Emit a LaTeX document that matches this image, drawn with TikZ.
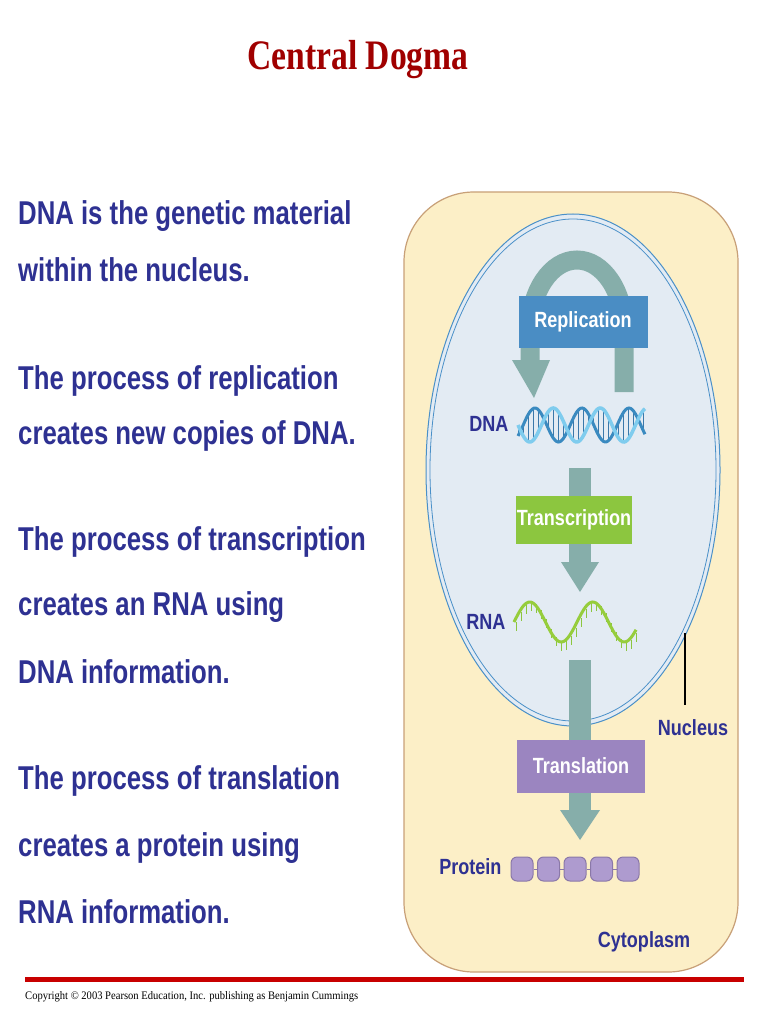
\documentclass[tikz,border=0pt]{standalone}
\usepackage{fontspec}
\usepackage{graphicx}
\setmainfont{Liberation Sans}
\newfontfamily\serifnarrow{Liberation Serif}
\newcommand{\nar}[2]{\scalebox{#1}[1]{#2}}
\begin{document}
\begin{tikzpicture}[x=1pt,y=-1pt,
  body/.style={font=\bfseries\fontsize{33}{36}\selectfont,text=tblue,anchor=west,inner sep=0pt},
  lbl/.style={font=\bfseries\fontsize{22}{24}\selectfont,text=tblue},
  box/.style={draw=none,text=white,font=\bfseries\fontsize{22}{24}\selectfont,inner sep=0pt},
  flow/.style={line width=22pt,draw=arrowc},
  bead/.style={draw=beadd,fill=beadc,rounded corners=6pt,line width=1pt,minimum width=22pt,minimum height=24pt,inner sep=0pt}]
\definecolor{tblue}{HTML}{2E3192}
\definecolor{arrowc}{HTML}{86AEAA}
\definecolor{beadc}{HTML}{AE9BCF}
\definecolor{beadd}{HTML}{8A78A8}
\useasboundingbox (0,0) rectangle (768,1024);
\fill[white] (0,0) rectangle (768,1024);
% title
\node[font=\serifnarrow\bfseries\fontsize{42}{44}\selectfont,text={rgb,255:red,160;green,0;blue,0}] (title) at (358,60) {\nar{0.8}{Central Dogma}};
% left text
\node[body] (t1) at (18,216) {\nar{0.78}{DNA is the genetic material}};
\node[body] (t2) at (18,270) {\nar{0.78}{within the nucleus.}};
\node[body] (t3) at (18,381) {\nar{0.78}{The process of replication}};
\node[body] (t4) at (18,436) {\nar{0.78}{creates new copies of DNA.}};
\node[body] (t5) at (18,542) {\nar{0.78}{The process of transcription}};
\node[body] (t6) at (18,607) {\nar{0.78}{creates an RNA using}};
\node[body] (t7) at (18,672) {\nar{0.78}{DNA information.}};
\node[body] (t8) at (18,781) {\nar{0.78}{The process of translation}};
\node[body] (t9) at (18,848) {\nar{0.78}{creates a protein using}};
\node[body] (t10) at (18,912) {\nar{0.78}{RNA information.}};
% cytoplasm
\draw[draw={rgb,255:red,200;green,160;blue,120},fill={rgb,255:red,252;green,239;blue,199},line width=1.2pt,rounded corners=70pt] (404,192) rectangle (738,972);
% nucleus
\draw[draw={rgb,255:red,74;green,144;blue,200},fill={rgb,255:red,227;green,235;blue,243},line width=1pt] (573,470) ellipse [x radius=147,y radius=256];
\draw[draw={rgb,255:red,74;green,144;blue,200},line width=0.8pt] (573,470) ellipse [x radius=143,y radius=251];
% replication arrow
\draw[line width=19pt,draw=arrowc] (624,392) -- (624,330) arc[start angle=0,end angle=-180,x radius=47,y radius=70] -- (530,362);
\fill[arrowc] (512,360) -- (550,360) -- (534,398) -- cycle;
\node[box,fill={rgb,255:red,74;green,141;blue,196},minimum width=129pt,minimum height=52pt] (rep) at (583,322) {\nar{0.82}{Replication}};
% DNA helix
\node[lbl,anchor=east] (dna) at (512,424) {\nar{0.82}{DNA}};
\foreach \i in {0,...,25}{
  \pgfmathsetmacro\aa{(\i*5/47)*360}
  \pgfmathsetmacro\xx{518+\i*5}
  \draw[draw={rgb,255:red,58;green,120;blue,170},line width=0.6pt] (\xx,{425+17*sin(\aa)}) -- (\xx,{425+17*sin(\aa+140)});
}
\draw[draw={rgb,255:red,58;green,138;blue,192},line width=3pt,domain=0:127,samples=80] plot ({518+\x},{425+17*sin((\x/47)*360+140)});
\draw[draw={rgb,255:red,127;green,204;blue,238},line width=3.5pt,domain=0:127,samples=80] plot ({518+\x},{425+17*sin((\x/47)*360)});
% arrow DNA->transcription
\draw[flow] (580,468) -- (580,566);
\fill[arrowc] (561,562) -- (599,562) -- (580,592) -- cycle;
\node[box,fill={rgb,255:red,140;green,198;blue,63},minimum width=116pt,minimum height=48pt] (tr) at (574,520) {\nar{0.82}{Transcription}};
% RNA
\node[lbl,anchor=east] (rna) at (509,622) {\nar{0.82}{RNA}};
\foreach \i in {0,...,24}{
  \pgfmathsetmacro\aa{(\i*5/63)*360}
  \pgfmathsetmacro\xx{516+\i*5}
  \draw[draw={rgb,255:red,140;green,198;blue,63},line width=0.8pt] (\xx,{622-20*sin(\aa)}) -- (\xx,{622-20*sin(\aa)+9});
}
\draw[draw={rgb,255:red,150;green,205;blue,60},line width=3pt,domain=0:122,samples=80] plot ({514+\x},{622-20*sin((\x/63)*360)});
% arrow RNA -> protein
\draw[flow] (580,660) -- (580,815);
\fill[arrowc] (560,810) -- (600,810) -- (580,840) -- cycle;
\node[box,fill={rgb,255:red,155;green,133;blue,192},minimum width=128pt,minimum height=53pt] (tl) at (581,766) {\nar{0.82}{Translation}};
% protein
\node[lbl,anchor=east] (prot) at (505,867) {\nar{0.82}{Protein}};
\foreach \i in {0,...,4}{
  \node[bead] (b\i) at ({522+\i*26.5},869) {};
}
\foreach \i/\j in {0/1,1/2,2/3,3/4}{\draw[draw=beadd,line width=1pt] (b\i) -- (b\j);}
% labels
\coordinate (np1) at (685,633);
\coordinate (np2) at (685,705);
\draw[line width=1.5pt] (np1) -- (np2);
\node[lbl] (nuc) at (693,728) {\nar{0.82}{Nucleus}};
\node[lbl] (cyto) at (644,942) {\nar{0.82}{Cytoplasm}};
% footer
\coordinate (r1) at (25,979);
\coordinate (r2) at (744,979);
\draw[line width=5pt,draw={rgb,255:red,200;green,0;blue,0}] (r1) -- (r2);
\node[font=\serifnarrow\fontsize{11.5}{13}\selectfont,anchor=west,inner sep=0pt] (copy) at (25,997) {\nar{0.92}{Copyright © 2003 Pearson Education, Inc. publishing as Benjamin Cummings}};
\end{tikzpicture}
\end{document}
